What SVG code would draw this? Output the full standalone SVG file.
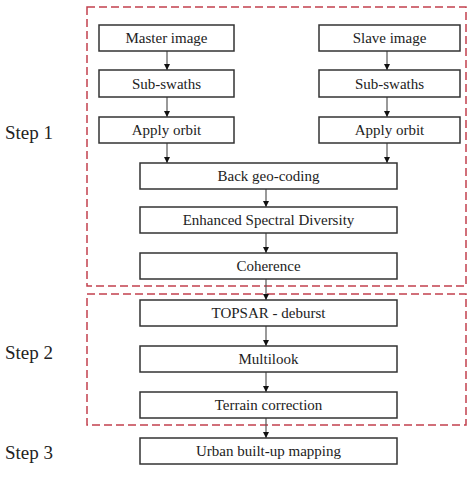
<svg xmlns="http://www.w3.org/2000/svg" width="474" height="478" viewBox="0 0 474 478">
<defs>
<style>
.box{fill:#fff;stroke:#333;stroke-width:1.5}
text{font-family:'Liberation Serif','DejaVu Serif',serif;fill:#222}
.lbl{font-size:15px;text-anchor:middle}
.step{font-size:19px}
.dash{fill:none;stroke:#c2404e;stroke-width:1.5;stroke-dasharray:8 4}
.conn{stroke:#555;stroke-width:1.2;fill:none;marker-end:url(#ah)}
</style>
<marker id="ah" viewBox="0 0 6 6" refX="6" refY="3" markerWidth="6" markerHeight="6" markerUnits="userSpaceOnUse" orient="auto">
<path d="M0,0 L6,3 L0,6 Z" fill="#111"/>
</marker>
</defs>
<rect width="474" height="478" fill="#fff"/>
<g id="groups">
<rect class="dash" x="87" y="7" width="379" height="279"/>
<rect class="dash" x="87" y="294" width="379" height="131"/>
</g>
<g id="steps">
<text class="step" x="5" y="139">Step 1</text>
<text class="step" x="5" y="359">Step 2</text>
<text class="step" x="5" y="459">Step 3</text>
</g>
<g id="connectors">
<line class="conn" x1="167" y1="51" x2="167" y2="70"/>
<line class="conn" x1="167" y1="97" x2="167" y2="117"/>
<line class="conn" x1="167" y1="143" x2="167" y2="163"/>
<line class="conn" x1="387" y1="51" x2="387" y2="70"/>
<line class="conn" x1="387" y1="97" x2="387" y2="117"/>
<line class="conn" x1="387" y1="143" x2="387" y2="163"/>
<line class="conn" x1="266" y1="189" x2="266" y2="207"/>
<line class="conn" x1="266" y1="233" x2="266" y2="253"/>
<line class="conn" x1="266" y1="279" x2="266" y2="300"/>
<line class="conn" x1="266" y1="326" x2="266" y2="346"/>
<line class="conn" x1="266" y1="372" x2="266" y2="392"/>
<line class="conn" x1="266" y1="418" x2="266" y2="438"/>
</g>
<g id="master"><rect class="box" x="99" y="25" width="135" height="26"/><text class="lbl" x="166.5" y="43">Master image</text></g>
<g id="slave"><rect class="box" x="319" y="25" width="141" height="26"/><text class="lbl" x="389.5" y="43">Slave image</text></g>
<g id="subswaths-m"><rect class="box" x="99" y="70" width="135" height="27"/><text class="lbl" x="166.5" y="88.5">Sub-swaths</text></g>
<g id="subswaths-s"><rect class="box" x="319" y="70" width="141" height="27"/><text class="lbl" x="389.5" y="88.5">Sub-swaths</text></g>
<g id="orbit-m"><rect class="box" x="99" y="117" width="135" height="26"/><text class="lbl" x="166.5" y="135">Apply orbit</text></g>
<g id="orbit-s"><rect class="box" x="319" y="117" width="141" height="26"/><text class="lbl" x="389.5" y="135">Apply orbit</text></g>
<g id="backgeo"><rect class="box" x="140" y="163" width="257" height="26"/><text class="lbl" x="268.5" y="181">Back geo-coding</text></g>
<g id="esd"><rect class="box" x="140" y="207" width="257" height="26"/><text class="lbl" x="268.5" y="225">Enhanced Spectral Diversity</text></g>
<g id="coherence"><rect class="box" x="140" y="253" width="257" height="26"/><text class="lbl" x="268.5" y="271">Coherence</text></g>
<g id="topsar"><rect class="box" x="140" y="300" width="257" height="26"/><text class="lbl" x="268.5" y="318">TOPSAR - deburst</text></g>
<g id="multilook"><rect class="box" x="140" y="346" width="257" height="26"/><text class="lbl" x="268.5" y="364">Multilook</text></g>
<g id="terrain"><rect class="box" x="140" y="392" width="257" height="26"/><text class="lbl" x="268.5" y="410">Terrain correction</text></g>
<g id="urban"><rect class="box" x="140" y="438" width="257" height="26"/><text class="lbl" x="268.5" y="456">Urban built-up mapping</text></g>
</svg>
